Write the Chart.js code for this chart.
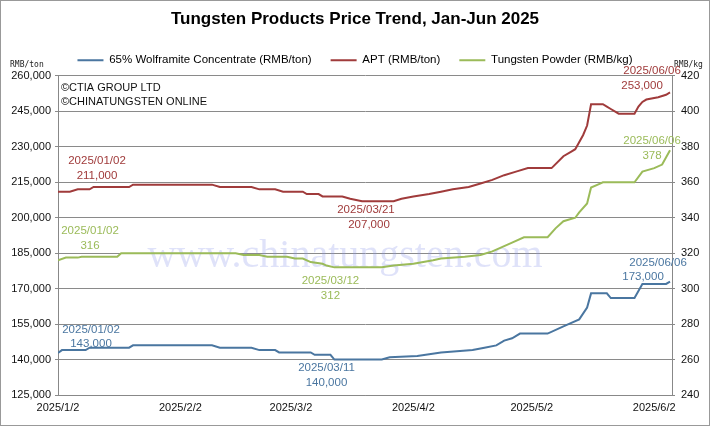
<!DOCTYPE html>
<html>
<head>
<meta charset="utf-8">
<script src="https://cdn.jsdelivr.net/npm/chart.js@4"></script>
<style>
  body { margin: 0; background: #fff; }
  #wrap { width: 710px; height: 426px; }
</style>
</head>
<body>
<div id="wrap"><canvas id="c" width="710" height="426"></canvas></div>
<script>
// days counted from 2025/1/2
const tickDays = [0, 31, 59, 90, 120, 151];
const tickLabels = ['2025/1/2', '2025/2/2', '2025/3/2', '2025/4/2', '2025/5/2', '2025/6/2'];

const wolfDays = [0,1,7,8,18,19,39,41,49,51,55,56,64,65,69,70,82,84,91,97,105,108,111,113,115,117,124,128,132,134,135,139,140,146,147,148,154,155];
const wolfVals = [142800,144000,144000,145000,145000,146000,146000,145000,145000,144000,144000,143000,143000,142000,142000,140000,140000,141000,141500,143000,144000,145000,146000,148000,149000,151000,151000,154000,157000,162000,168000,168000,166000,166000,169000,172000,172000,173000];

const aptDays = [0,3,5,8,9,18,19,39,41,49,51,55,57,62,63,66,67,72,74,77,85,87,90,94,97,100,104,107,110,113,116,119,125,128,130,131,133,134,135,138,139,140,142,146,147,148,149,152,154,155];
const aptVals = [211000,211000,212000,212000,213000,213000,214000,214000,213000,213000,212000,212000,211000,211000,210000,210000,209000,209000,208000,207000,207000,208000,209000,210000,211000,212000,213000,214500,216000,218000,219500,221000,221000,226000,228000,229000,235000,239000,248000,248000,247000,246000,244000,244000,247000,249000,250000,251000,252000,253000];

const powDays = [0,2,5,6,15,16,45,47,51,53,58,60,62,64,67,68,70,82,85,90,95,97,103,107,110,112,115,118,124,126,128,131,132,134,135,137,138,146,148,151,153,155];
const powVals = [316,317.5,317.5,318,318,320,320,319,319,318,318,317,317,315,314,313,312,312,313,314,316,317,318,319,321,323,326,329,329,334,338,340,343,348,357,359,360,360,366,368,370,378];

const toPts = (d, v) => d.map((x, i) => ({ x: x, y: v[i] }));

const BLUE = '#4a76a0', RED = '#a03b3b', GREEN = '#9bbb59';

// [axis, day, value, dx, dy, text, colour]
const notes = [
  ['y', 0, 211000, 39, -31, '2025/01/02', RED], ['y', 0, 211000, 39, -16, '211,000', RED],
  ['y', 78, 207000, 0, 9, '2025/03/21', RED], ['y', 78, 207000, 3, 24, '207,000', RED],
  ['y', 155, 253000, -18, -22, '2025/06/06', RED], ['y', 155, 253000, -28, -7, '253,000', RED],
  ['y2', 0, 316, 32, -29, '2025/01/02', GREEN], ['y2', 0, 316, 32, -14, '316', GREEN],
  ['y2', 69, 312, 0, 13, '2025/03/12', GREEN], ['y2', 69, 312, 0, 28, '312', GREEN],
  ['y2', 155, 378, -18, -10, '2025/06/06', GREEN], ['y2', 155, 378, -18, 5, '378', GREEN],
  ['y', 0, 143000, 33, -23, '2025/01/02', BLUE], ['y', 0, 143000, 33, -9, '143,000', BLUE],
  ['y', 68, 140000, 0, 8, '2025/03/11', BLUE], ['y', 68, 140000, 0, 23, '140,000', BLUE],
  ['y', 155, 173000, -12, -19, '2025/06/06', BLUE], ['y', 155, 173000, -27, -5, '173,000', BLUE]
];

const decor = {
  id: 'decor',
  beforeDatasetsDraw(chart) {
    const c = chart.ctx, a = chart.chartArea;
    c.save();
    c.fillStyle = 'rgba(140,150,235,0.28)';
    c.font = '40px "Liberation Serif"';
    c.textAlign = 'center';
    c.fillText('www.chinatungsten.com', 345, 256);
    c.fillStyle = '#111';
    c.font = '11px "Liberation Sans"';
    c.textAlign = 'left';
    c.fillText('©CTIA GROUP LTD', a.left + 3, a.top + 12);
    c.fillText('©CHINATUNGSTEN ONLINE', a.left + 3, a.top + 26);
    c.restore();
  },
  afterDraw(chart) {
    const c = chart.ctx;
    c.save();
    c.font = '8px "DejaVu Sans Mono"';
    c.fillStyle = '#222';
    c.textAlign = 'left';
    c.fillText('RMB/ton', 10, 65);
    c.fillText('RMB/kg', 674, 65);
    c.font = '11.5px "Liberation Sans"';
    c.textAlign = 'center';
    notes.forEach(n => {
      const x = chart.scales.x.getPixelForValue(n[1]) + n[3];
      const y = chart.scales[n[0]].getPixelForValue(n[2]) + n[4];
      c.fillStyle = n[6];
      c.fillText(n[5], x, y);
    });
    c.strokeStyle = '#999';
    c.lineWidth = 1;
    c.strokeRect(0.5, 0.5, 709, 425);
    c.restore();
  }
};

new Chart(document.getElementById('c'), {
  type: 'line',
  data: {
    datasets: [
      { label: '65% Wolframite Concentrate (RMB/ton)', data: toPts(wolfDays, wolfVals), borderColor: BLUE, yAxisID: 'y' },
      { label: 'APT (RMB/ton)', data: toPts(aptDays, aptVals), borderColor: RED, yAxisID: 'y' },
      { label: 'Tungsten Powder (RMB/kg)', data: toPts(powDays, powVals), borderColor: GREEN, yAxisID: 'y2' }
    ]
  },
  options: {
    responsive: false,
    animation: false,
    elements: { point: { radius: 0 }, line: { borderWidth: 2, tension: 0 } },
    layout: { padding: { top: 0, left: 0, right: 0, bottom: 0 } },
    plugins: {
      tooltip: { enabled: false },
      title: {
        display: true,
        text: 'Tungsten Products Price Trend, Jan-Jun 2025',
        color: '#000',
        font: { family: 'Liberation Sans', size: 17, weight: 'bold' },
        padding: { top: 9, bottom: 6 }
      },
      legend: {
        labels: {
          color: '#222',
          font: { family: 'Liberation Sans', size: 11.5 },
          boxWidth: 26, boxHeight: 0, padding: 19,
          generateLabels: (chart) => chart.data.datasets.map((d, i) => ({
            text: d.label, strokeStyle: d.borderColor, fillStyle: d.borderColor, lineWidth: 2, datasetIndex: i
          }))
        }
      }
    },
    scales: {
      x: {
        type: 'linear', min: 0, max: 155.5,
        afterBuildTicks: (s) => { s.ticks = tickDays.map(v => ({ value: v })); },
        afterFit: (s) => { s.height = 31; },
        ticks: {
          callback: (v) => tickLabels[tickDays.indexOf(v)],
          color: '#111', font: { family: 'Liberation Sans', size: 11 }, maxRotation: 0, padding: 2
        },
        grid: { display: false, drawTicks: true, tickLength: 4 },
        border: { color: '#888' }
      },
      y: {
        position: 'left', min: 125000, max: 260000,
        afterFit: (s) => { s.width = 58; },
        ticks: {
          stepSize: 15000,
          callback: (v) => v.toLocaleString('en-US'),
          color: '#111', font: { family: 'Liberation Sans', size: 11 }, padding: 4
        },
        grid: { color: '#8a8a8a', tickLength: 3 },
        border: { color: '#888' }
      },
      y2: {
        position: 'right', min: 240, max: 420,
        afterFit: (s) => { s.width = 38; },
        ticks: { stepSize: 20, color: '#111', font: { family: 'Liberation Sans', size: 11 }, padding: 6 },
        grid: { drawOnChartArea: false, tickLength: 3, color: '#888' },
        border: { color: '#888' }
      }
    }
  },
  plugins: [decor]
});
</script>
</body>
</html>
